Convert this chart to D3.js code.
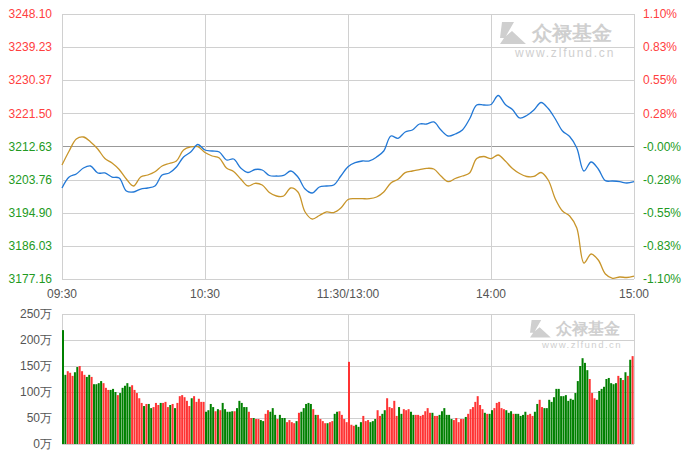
<!DOCTYPE html>
<html><head><meta charset="utf-8">
<script src="https://cdn.jsdelivr.net/npm/d3@7"></script>
<style>body{margin:0;background:#fff;} text{font-family:Arial,"Liberation Sans",sans-serif;}</style>
</head><body><svg id="c" width="687" height="454"></svg>
<script>
const priceTicks = [3177.16,3186.03,3194.90,3203.76,3212.63,3221.50,3230.37,3239.23,3248.10];
const pctLabels = ["-1.10%","-0.83%","-0.55%","-0.28%","-0.00%","0.28%","0.55%","0.83%","1.10%"];
const timeTicks = [0,60,120,180,240];
const timeLabels = ["09:30","10:30","11:30/13:00","14:00","15:00"];
const volTicks = [0,50,100,150,200,250];
const prevClose = 3212.63;
const lineStep = 3; // minutes between line samples

const indexValues = [3201.52,3204.46,3205.27,3206.87,3207.41,3205.54,3205.54,3204.46,3204.20,3200.72,
3200.45,3201.25,3201.52,3202.06,3205.00,3205.54,3207.14,3209.82,3211.16,3213.17,
3211.69,3211.43,3211.16,3209.02,3209.28,3206.87,3205.67,3206.47,3206.34,3204.87,
3204.73,3204.87,3206.07,3204.46,3201.25,3200.18,3201.79,3202.06,3202.32,3204.73,
3207.22,3208.29,3208.75,3208.75,3209.82,3211.43,3215.44,3214.83,3216.51,3217.05,
3218.65,3218.65,3219.19,3217.05,3215.44,3215.98,3217.05,3219.99,3223.74,3223.74,
3223.87,3226.28,3223.87,3222.53,3220.26,3220.93,3222.40,3224.41,3222.80,3219.99,
3216.78,3215.31,3212.23,3206.07,3208.48,3206.61,3203.48,3203.39,3203.21,3202.86,3203.21];

const avgValues = [3207.68,3211.43,3214.64,3215.17,3213.83,3211.96,3209.42,3208.21,3206.47,3203.93,
3202.06,3204.46,3205.00,3205.88,3207.41,3208.08,3208.75,3211.69,3212.50,3212.58,
3211.02,3210.09,3209.55,3206.87,3205.94,3203.93,3202.06,3202.78,3202.32,3200.32,
3199.38,3199.38,3201.52,3200.45,3195.10,3193.22,3194.16,3195.10,3194.96,3196.17,
3198.44,3198.66,3198.66,3198.66,3199.11,3200.45,3202.86,3203.85,3205.62,3206.07,
3206.42,3206.79,3206.61,3204.73,3203.21,3204.06,3204.73,3205.54,3209.42,3209.95,
3209.36,3210.35,3208.75,3206.74,3205.40,3204.60,3204.60,3205.67,3203.66,3198.58,
3195.36,3194.02,3190.81,3181.44,3183.85,3182.25,3178.50,3177.35,3177.69,3177.56,3177.96];

const volumes = [219,133,140,137,131,138,148,150,140,133,129,133,129,115,115,117,121,117,108,104,
104,106,100,94,98,108,112,117,110,113,104,98,88,79,73,77,77,69,71,79,
75,79,79,81,71,75,77,69,79,92,94,90,83,73,88,92,81,87,81,81,
62,65,77,71,63,67,65,79,67,62,62,63,63,69,83,79,71,71,62,50,
50,48,48,46,44,58,65,62,69,56,48,56,50,50,42,46,42,40,44,60,
62,69,77,79,77,67,56,56,48,44,40,40,42,44,58,62,63,56,48,42,
158,37,35,37,33,42,54,44,46,42,44,48,65,54,58,65,88,71,69,83,
54,71,58,67,65,67,62,56,56,56,54,56,63,69,60,60,54,54,56,63,
69,56,56,48,46,50,42,48,48,52,58,67,71,81,92,75,67,60,58,58,
65,69,79,81,69,67,65,60,63,58,58,58,54,56,62,56,58,54,62,77,
85,71,69,69,85,81,90,106,106,92,92,94,83,87,85,98,121,150,165,156,
142,125,98,88,85,102,106,110,125,127,117,115,117,131,127,123,138,131,162,169];

// R = up (red), G = down (green), one letter per minute bar
const volDirs = (
  "GGRRRGGRRRGGRGGGGRRRGGGRGGGGGRRRRRGRGGRRRGRRRGRGRRRRRRGRRRRRGGGG" +
  "RGRGGGGGRGGGGGRRGRRGGRRGGGRGGGRRRRGRGGGGGRGRRRRGRRGGRRRRRRR" +
  "GGGRRRGGGRRGGRRRRRGGRRRGGRRRRRRRGRRGGGGGGRRRRRGRRRRRRRGRGGRRRR" +
  "RGGGRGGGGGRRRGGRRGGGGGGGGGGGGGGGGGGGRRRGGGGGGGGGRGRGRGRR").split("");

const svg = d3.select("#c");
const L = 62, R = 634;
const x = d3.scaleLinear().domain([0,240]).range([L,R]);
const y = d3.scaleLinear().domain([3177.16,3248.10]).range([279,14]);
const yv = d3.scaleLinear().domain([0,250]).range([444,314]);
const RED = "#ff4040", GREEN = "#229a22", GRID = "#d0d0d0";

function watermark(x0, y0, s) {
  const g = svg.append("g").attr("transform", `translate(${x0},${y0}) scale(${s})`).attr("fill","#cfcfcf");
  g.append("path").attr("d","M2,0 L14,0 L6,14 L12,9 L26,22 L0,22 L4,16 L0,16 Z");
  g.append("text").attr("x",32).attr("y",18).attr("font-size",20).attr("font-weight","bold")
    .attr("font-family","'Noto Sans CJK SC',sans-serif").text("众禄基金");
  g.append("text").attr("x",15).attr("y",35).attr("font-size",12).attr("letter-spacing",1.8)
    .attr("font-family","'DejaVu Sans Mono',monospace").text("www.zlfund.cn");
}
watermark(500, 22, 1);
watermark(530, 320, 0.8);

svg.append("g").selectAll("line").data(priceTicks).join("line")
  .attr("x1",L).attr("x2",R).attr("y1",d=>Math.round(y(d))+0.5).attr("y2",d=>Math.round(y(d))+0.5)
  .attr("stroke",d=>d===prevClose?"#999":GRID).attr("stroke-width",1);
svg.append("g").selectAll("line").data(timeTicks).join("line")
  .attr("x1",d=>Math.round(x(d))+0.5).attr("x2",d=>Math.round(x(d))+0.5).attr("y1",14).attr("y2",279)
  .attr("stroke",GRID);

svg.append("g").selectAll("text").data(priceTicks).join("text")
  .attr("x",52).attr("y",d=>y(d)).attr("dy","0.35em").attr("text-anchor","end").attr("font-size",12)
  .attr("fill",d=>d>prevClose?RED:GREEN).text(d=>d.toFixed(2));
svg.append("g").selectAll("text").data(priceTicks).join("text")
  .attr("x",643).attr("y",d=>y(d)).attr("dy","0.35em").attr("font-size",12)
  .attr("fill",d=>d>prevClose?RED:GREEN).text((d,i)=>pctLabels[i]);
svg.append("g").selectAll("text").data(timeTicks).join("text")
  .attr("x",d=>x(d)).attr("y",298).attr("text-anchor","middle").attr("font-size",12)
  .attr("fill","#555").text((d,i)=>timeLabels[i]);

const line = d3.line().x((d,i)=>x(i*lineStep)).y(d=>y(d)).curve(d3.curveCatmullRom);
svg.append("path").datum(avgValues).attr("d",line).attr("fill","none").attr("stroke","#c8952a").attr("stroke-width",1.3);
svg.append("path").datum(indexValues).attr("d",line).attr("fill","none").attr("stroke","#2278d6").attr("stroke-width",1.3);

svg.append("g").selectAll("line").data(volTicks).join("line")
  .attr("x1",L).attr("x2",R).attr("y1",d=>Math.round(yv(d))+0.5).attr("y2",d=>Math.round(yv(d))+0.5)
  .attr("stroke",GRID);
svg.append("g").selectAll("line").data(timeTicks).join("line")
  .attr("x1",d=>Math.round(x(d))+0.5).attr("x2",d=>Math.round(x(d))+0.5).attr("y1",314).attr("y2",444)
  .attr("stroke",GRID);
svg.append("g").selectAll("text").data(volTicks).join("text")
  .attr("x",52).attr("y",d=>yv(d)).attr("dy","0.35em").attr("text-anchor","end").attr("font-size",12)
  .attr("fill","#555").text(d=>d+"万");

svg.append("g").selectAll("rect").data(volumes).join("rect")
  .attr("x",(d,i)=>x(i)).attr("width",2).attr("y",d=>yv(d)).attr("height",d=>yv(0)-yv(d))
  .attr("fill",(d,i)=>volDirs[i]==="R"?"#ff3333":"#008000");
</script></body></html>
